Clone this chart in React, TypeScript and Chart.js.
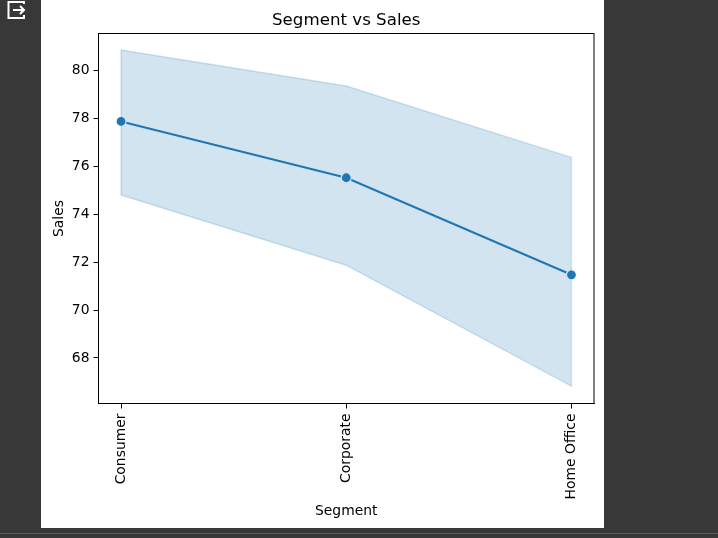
import { useEffect, useRef } from "react"
import { Chart, registerables } from "chart.js"

Chart.register(...registerables)

const segments = ["Consumer", "Corporate", "Home Office"]
const positions = [0, 1, 2]
const meanSales = [77.87, 75.52, 71.47]
const upperSales = [80.85, 79.35, 76.37]
const lowerSales = [74.8, 71.87, 66.82]
const salesTicks = [68, 70, 72, 74, 76, 78, 80]

const FONT = "'DejaVu Sans'"
const BLUE = "#1f77b4"
const BAND = "rgba(31, 119, 180, 0.2)"

const toPoints = (ys: number[]) => ys.map((y, i) => ({ x: positions[i], y }))

const framePlugin = {
  id: "frame",
  afterDatasetsDraw(chart: Chart) {
    const { ctx, chartArea } = chart
    ctx.save()
    // frame of the axes
    ctx.strokeStyle = "#000"
    ctx.lineWidth = 1
    ctx.strokeRect(chartArea.left, chartArea.top, chartArea.width, chartArea.height)
    // title is centred over the axes, not over the canvas
    ctx.fillStyle = "#000"
    ctx.font = `16.67px ${FONT}`
    ctx.textAlign = "center"
    ctx.textBaseline = "alphabetic"
    ctx.fillText("Segment vs Sales", (chartArea.left + chartArea.right) / 2, 25)
    ctx.restore()
  },
}

export default function App() {
  const chartRef = useRef<HTMLCanvasElement>(null)

  useEffect(() => {
    if (!chartRef.current) return

    const chart = new Chart(chartRef.current, {
      type: "line",
      data: {
        datasets: [
          {
            label: "Upper",
            data: toPoints(upperSales),
            borderColor: BAND,
            borderWidth: 1.4,
            backgroundColor: BAND,
            pointRadius: 0,
            fill: "+1",
          },
          {
            label: "Lower",
            data: toPoints(lowerSales),
            borderColor: BAND,
            borderWidth: 1.4,
            pointRadius: 0,
            fill: false,
          },
          {
            label: "Left edge",
            data: [
              { x: positions[0], y: upperSales[0] },
              { x: positions[0], y: lowerSales[0] },
            ],
            borderColor: BAND,
            borderWidth: 1.4,
            pointRadius: 0,
          },
          {
            label: "Right edge",
            data: [
              { x: positions[2], y: upperSales[2] },
              { x: positions[2], y: lowerSales[2] },
            ],
            borderColor: BAND,
            borderWidth: 1.4,
            pointRadius: 0,
          },
          {
            label: "Sales",
            data: toPoints(meanSales),
            borderColor: BLUE,
            borderWidth: 2.1,
            backgroundColor: BLUE,
            pointRadius: 5,
            pointBorderColor: "#fff",
            pointBorderWidth: 1.2,
            fill: false,
          },
        ],
      },
      options: {
        responsive: false,
        animation: false,
        layout: { padding: { top: 33.5, right: 10, left: 0, bottom: 0 } },
        plugins: {
          legend: { display: false },
          tooltip: { enabled: false },
        },
        scales: {
          x: {
            type: "linear",
            min: -0.1,
            max: 2.1,
            afterBuildTicks: (axis) => {
              axis.ticks = positions.map((value) => ({ value }))
            },
            afterFit: (axis) => {
              axis.height = 124.5
            },
            grid: { drawOnChartArea: false, tickColor: "#000", tickLength: 5 },
            border: { color: "#000" },
            ticks: {
              color: "#000",
              font: { family: FONT, size: 13.9 },
              minRotation: 90,
              maxRotation: 90,
              padding: 5,
              callback: (value) => segments[Number(value)],
            },
            title: {
              display: true,
              text: "Segment",
              color: "#000",
              font: { family: FONT, size: 13.9 },
              padding: { top: 0, bottom: 8 },
            },
          },
          y: {
            min: 66.1,
            max: 81.54,
            afterBuildTicks: (axis) => {
              axis.ticks = salesTicks.map((value) => ({ value }))
            },
            afterFit: (axis) => {
              axis.width = 57.5
            },
            grid: { drawOnChartArea: false, tickColor: "#000", tickLength: 5 },
            border: { color: "#000" },
            ticks: {
              color: "#000",
              font: { family: FONT, size: 13.9 },
              padding: 4,
            },
            title: {
              display: true,
              text: "Sales",
              color: "#000",
              font: { family: FONT, size: 13.9 },
              padding: { top: 10, bottom: 0 },
            },
          },
        },
      },
      plugins: [framePlugin],
    })

    return () => chart.destroy()
  }, [])

  return (
    <div style={{ position: "fixed", inset: 0, background: "#383838", overflow: "hidden" }}>
      <svg
        width="20"
        height="20"
        viewBox="0 0 20 20"
        style={{ position: "absolute", left: 6, top: 0 }}
        fill="none"
        stroke="#fff"
        strokeWidth="2"
      >
        <path d="M18 4V2H2.5V18H18V15" />
        <path d="M7 10H18M14 6L18 10L14 14" />
      </svg>
      <div style={{ position: "absolute", left: 41, top: 0, width: 563, height: 528, background: "#fff" }}>
        <canvas ref={chartRef} width={563} height={528} style={{ display: "block" }} />
      </div>
      <div style={{ position: "absolute", left: 0, right: 0, top: 533, height: 1, background: "#5a5a5a" }} />
    </div>
  )
}
